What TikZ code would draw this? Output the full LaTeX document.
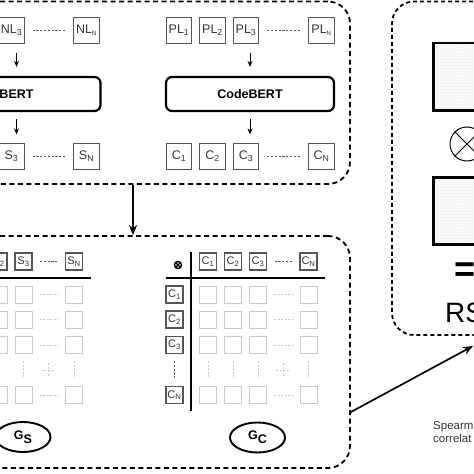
\documentclass[tikz,border=0pt]{standalone}
\usepackage{fontspec}
\setmainfont{Liberation Sans}
\usetikzlibrary{arrows.meta,calc,shapes.geometric}
\definecolor{boxgray}{HTML}{555555}
\definecolor{txtgray}{HTML}{333333}
\definecolor{gridgray}{HTML}{C8C8C8}
\begin{document}
\begin{tikzpicture}[x=1pt,y=-1pt,
  panel/.style={draw=black, line width=1.8pt, dash pattern=on 5pt off 3.5pt, rounded corners=22pt, inner sep=0pt},
  rpanel/.style={panel, dash pattern=on 4pt off 3pt},
  tokbox/.style={draw=boxgray, line width=0.8pt, minimum size=25.5pt, inner sep=0pt, text=txtgray, font=\fontsize{12.5}{14}\selectfont},
  encbox/.style={draw=black, line width=2.2pt, rounded corners=6pt, minimum width=168pt, minimum height=34pt, inner sep=0pt, font=\bfseries\fontsize{12.5}{14}\selectfont},
  hdrbox/.style={draw=boxgray, line width=1.1pt, minimum size=17pt, inner sep=0pt, text=txtgray, font=\fontsize{11}{12}\selectfont},
  cellbox/.style={draw=gridgray, line width=0.8pt, minimum size=17pt, inner sep=0pt},
  tokdots/.style={draw=boxgray, line width=0.7pt, dash pattern=on 2.2pt off 1.6pt},
  celldots/.style={draw=gridgray, line width=0.7pt, dash pattern=on 2pt off 1.5pt},
  smallarrow/.style={-{Stealth[length=6pt,width=5pt]}, line width=1pt},
  bigarrow/.style={-{Stealth[length=10pt,width=8pt]}, line width=1.7pt},
  gram/.style={draw=black, line width=1.9pt, ellipse, minimum width=55pt, minimum height=30pt, inner sep=0pt, font=\bfseries\fontsize{12.5}{13}\selectfont},
  rsmat/.style={draw=black, line width=2.6pt, minimum width=67pt, minimum height=67.5pt, inner sep=0pt, fill=gray!3,
    path picture={\draw[gray!9, line width=0.25pt, step=3pt] (path picture bounding box.south west) grid (path picture bounding box.north east);}},
]
\useasboundingbox (0,0) rectangle (474,474);
\clip (0,0) rectangle (474,474);

% panels
\node[panel, minimum width=550pt, minimum height=182.5pt] (toppanel) at (75,92.75) {};
\node[panel, minimum width=550pt, minimum height=232pt] (botpanel) at (75,352) {};
\node[rpanel, minimum width=208pt, minimum height=333.5pt] (rpanel) at (496,168.25) {};

% top panel: tokens
\node[tokbox] (nl3) at (11.5,30.5) {NL\textsubscript{3}};
\node[tokbox] (nlN) at (86.5,30.5) {NL\textsubscript{\fontsize{6}{6}\selectfont N}};
\node[tokbox] (pl1) at (179,30.5) {PL\textsubscript{1}};
\node[tokbox] (pl2) at (212.5,30.5) {PL\textsubscript{2}};
\node[tokbox] (pl3) at (246,30.5) {PL\textsubscript{3}};
\node[tokbox] (plN) at (321.5,30.5) {PL\textsubscript{\fontsize{6}{6}\selectfont N}};
\draw[tokdots, shorten <=8pt, shorten >=8pt] (nl3) -- (nlN);
\draw[tokdots, shorten <=8pt, shorten >=8pt] (pl3) -- (plN);

\node[encbox] (bert) at (16.5,94) {BERT};
\node[encbox] (codebert) at (250,94) {CodeBERT};

\node[tokbox] (s3) at (11.5,156.5) {S\textsubscript{3}};
\node[tokbox] (sN) at (86.5,156.5) {S\textsubscript{N}};
\node[tokbox] (c1) at (179,156.5) {C\textsubscript{1}};
\node[tokbox] (c2) at (212.5,156.5) {C\textsubscript{2}};
\node[tokbox] (c3) at (246,156.5) {C\textsubscript{3}};
\node[tokbox] (cN) at (321.5,156.5) {C\textsubscript{N}};
\draw[tokdots, shorten <=8pt, shorten >=8pt] (s3) -- (sN);
\draw[tokdots, shorten <=8pt, shorten >=8pt] (c3) -- (cN);

\draw[smallarrow, shorten <=9pt, shorten >=9pt] (bert.north |- nl3.south) -- (bert.north);
\draw[smallarrow, shorten <=7pt, shorten >=9pt] (bert.south) -- (bert.south |- s3.north);
\draw[smallarrow, shorten <=9pt, shorten >=9pt] (codebert.north |- pl3.south) -- (codebert.north);
\draw[smallarrow, shorten <=7pt, shorten >=9pt] (codebert.south) -- (codebert.south |- c3.north);

% arrow between panels
\coordinate (downx) at (133,0);
\draw[bigarrow] (toppanel.south -| downx) -- (botpanel.north -| downx);

% ---- left matrix (G_S) ----
\node[hdrbox] (hs2) at (-1.5,261.5) {\phantom{S}\textsubscript{2}};
\node[hdrbox] (hs3) at (23.5,261.5) {S\textsubscript{3}};
\node[hdrbox] (hsN) at (74,261.5) {S\textsubscript{N}};
\draw[tokdots, shorten <=7.5pt, shorten >=7.5pt] (hs3) -- (hsN);
\draw[line width=1.5pt] (-10,278) -- (90.5,278);
\foreach \y [count=\j] in {294.5,319.5,345,395} {
  \foreach \x [count=\i] in {-1.5,23.5,74} {
    \node[cellbox] (ls-\i-\j) at (\x,\y) {};
  }
  \draw[celldots, shorten <=7.5pt, shorten >=7.5pt] (ls-2-\j) -- (ls-3-\j);
}
\foreach \i in {2,3} {
  \draw[celldots, shorten <=7.5pt, shorten >=7.5pt] (ls-\i-3) -- (ls-\i-4);
}
\coordinate (lsmid) at (48.75,370);
\draw[celldots] ($(lsmid)+(-7,0)$) -- ($(lsmid)+(7,0)$);
\draw[celldots] ($(lsmid)+(0,-7)$) -- ($(lsmid)+(0,7)$);
\node[gram] (gs) at (23,437) {G\raisebox{-4pt}{S}};

% ---- right matrix (G_C) ----
\node[circle, draw=black, line width=1.4pt, minimum size=7pt, inner sep=0pt] (ot) at (178,265) {};
\draw[line width=1.1pt] (ot.north west) -- (ot.south east) (ot.north east) -- (ot.south west);
\node[hdrbox] (hc1) at (208,261.5) {C\textsubscript{1}};
\node[hdrbox] (hc2) at (233,261.5) {C\textsubscript{2}};
\node[hdrbox] (hc3) at (258,261.5) {C\textsubscript{3}};
\node[hdrbox] (hcN) at (308.5,261.5) {C\textsubscript{N}};
\draw[tokdots, shorten <=7.5pt, shorten >=7.5pt] (hc3) -- (hcN);
\node[hdrbox] (rc1) at (174.5,294.5) {C\textsubscript{1}};
\node[hdrbox] (rc2) at (174.5,319.5) {C\textsubscript{2}};
\node[hdrbox] (rc3) at (174.5,345) {C\textsubscript{3}};
\node[hdrbox] (rcN) at (174.5,395) {C\textsubscript{N}};
\draw[tokdots, shorten <=7pt, shorten >=7pt] (rc3) -- (rcN);
\draw[line width=1.5pt] (191,252) -- (191,411);
\draw[line width=1.5pt] (166,278) -- (325,278);
\foreach \y [count=\j] in {294.5,319.5,345,395} {
  \foreach \x [count=\i] in {208,233,258,308.5} {
    \node[cellbox] (rs-\i-\j) at (\x,\y) {};
  }
  \draw[celldots, shorten <=7.5pt, shorten >=7.5pt] (rs-3-\j) -- (rs-4-\j);
}
\foreach \i in {1,2,3,4} {
  \draw[celldots, shorten <=7.5pt, shorten >=7.5pt] (rs-\i-3) -- (rs-\i-4);
}
\coordinate (rsmid) at (283.25,370);
\draw[celldots] ($(rsmid)+(-7,0)$) -- ($(rsmid)+(7,0)$);
\draw[celldots] ($(rsmid)+(0,-7)$) -- ($(rsmid)+(0,7)$);
\node[gram] (gc) at (257.5,437.5) {G\raisebox{-4pt}{C}};

% ---- right panel ----
\node[rsmat] (matA) at (467,76.75) {};
\node[circle, draw=black, line width=1pt, minimum size=34pt, inner sep=0pt] (times) at (467,144) {};
\draw[line width=1pt] (times.north west) -- (times.south east) (times.north east) -- (times.south west);
\node[rsmat] (matB) at (467,211) {};
\node[font=\bfseries\fontsize{36}{36}\selectfont, inner sep=0pt] (eq) at (465.5,272.5) {=};
\node[font=\fontsize{28}{28}\selectfont, anchor=base west, inner sep=0pt] (rs) at (445,322) {RS};

% arrow to right panel
\coordinate (rsin) at (473,346);
\draw[bigarrow] (botpanel.east |- 0,412) -- (rsin);
\node[anchor=base west, inner sep=0pt, text=txtgray, font=\fontsize{11.5}{13}\selectfont] (sp1) at (433,429) {Spearm};
\node[anchor=base west, inner sep=0pt, text=txtgray, font=\fontsize{11.5}{13}\selectfont] (sp2) at (433,442.5) {correlat};
\end{tikzpicture}
\end{document}
